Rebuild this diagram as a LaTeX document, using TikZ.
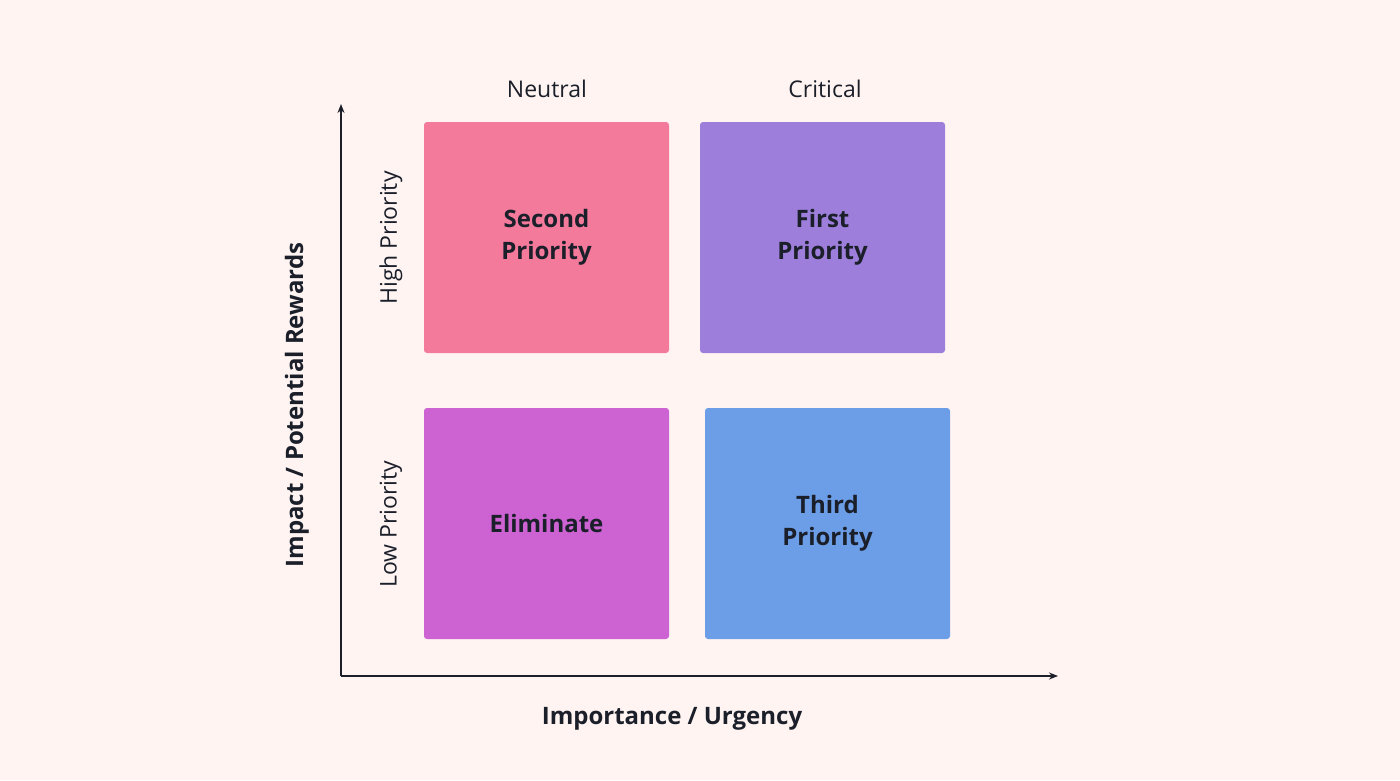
\documentclass[tikz,border=0pt]{standalone}
\usepackage{fontspec}
\setmainfont{Open Sans}
\usetikzlibrary{arrows.meta}
\definecolor{bg}{HTML}{FFF4F2}
\definecolor{ink}{HTML}{1B1F2A}
\definecolor{cpink}{HTML}{F47A9C}
\definecolor{cpurple}{HTML}{9D7FDB}
\definecolor{cmag}{HTML}{CD62D3}
\definecolor{cblue}{HTML}{6C9EE8}
\begin{document}
\begin{tikzpicture}[x=1pt,y=-1pt,
  quad/.style={rounded corners=3pt,inner sep=0pt,minimum width=245pt,minimum height=231pt,
    text=ink,font=\fontsize{24}{32}\selectfont\bfseries,align=center},
  lbl/.style={text=ink,font=\fontsize{23}{28}\selectfont},
  ttl/.style={text=ink,font=\fontsize{24}{30}\selectfont\bfseries},
  axis/.style={draw=ink,line width=1.6pt,-{Stealth[length=9pt,width=7pt]}}]
\fill[bg] (0,0) rectangle (1400,780);
\node[quad,fill=cpink]   (sp) at (546.5,237.5) {Second\\Priority};
\node[quad,fill=cpurple] (fp) at (822.5,237.5) {First\\Priority};
\node[quad,fill=cmag]    (el) at (546.5,523.5) {Eliminate};
\node[quad,fill=cblue]   (tp) at (827.5,523.5) {Third\\Priority};
\coordinate (o) at (341,676);
\coordinate (ytop) at (341,104);
\coordinate (xend) at (1058,676);
\draw[axis] (o) -- (ytop);
\draw[axis] (o) -- (xend);
\node[lbl] (n) at (547,89) {Neutral};
\node[lbl] (c) at (825,89) {Critical};
\node[lbl,rotate=90] (hp) at (391,238) {High Priority};
\node[lbl,rotate=90] (lp) at (391,524) {Low Priority};
\node[ttl,rotate=90] (yt) at (297,405) {Impact / Potential Rewards};
\node[ttl] (xt) at (672,719) {Importance / Urgency};
\end{tikzpicture}
\end{document}
